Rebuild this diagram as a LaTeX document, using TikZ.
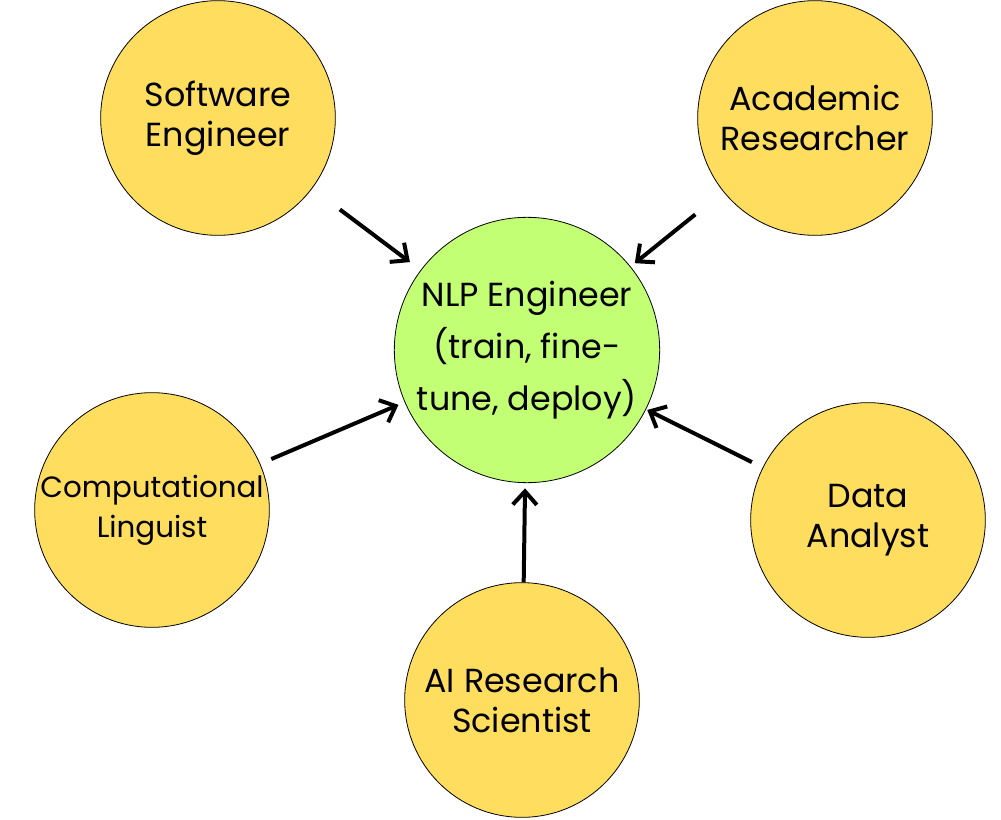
\documentclass[tikz,border=0pt]{standalone}
\usepackage{fontspec}
\setmainfont{Poppins}
\usetikzlibrary{arrows.meta}
\definecolor{yel}{HTML}{FFDD5E}
\definecolor{grn}{HTML}{C2FF74}
\begin{document}
\begin{tikzpicture}[x=0.75pt,y=-0.75pt,
  role/.style={circle,draw=black,line width=0.6pt,fill=yel,minimum size=176pt,inner sep=0pt,align=center,font=\fontsize{25}{30}\selectfont},
  arr/.style={line width=3pt,-{Straight Barb[length=10pt,width=18pt,line width=3pt]}}]
\useasboundingbox (0,0) rectangle (1001,820);
\node[role] (se) at (218,118) {Software\\Engineer};
\node[role] (ar) at (815,118) {Academic\\Researcher};
\node[role] (cl) at (152,510) {\fontsize{22}{28}\selectfont Computational\\\fontsize{22}{28}\selectfont Linguist};
\node[role] (da) at (868,520) {Data\\Analyst};
\node[role] (ai) at (522,700) {AI Research\\Scientist};
\node[circle,draw=black,line width=0.6pt,fill=grn,minimum size=199pt,inner sep=0pt,align=center,font=\fontsize{25}{39}\selectfont] (nlp) at (527,350) {NLP Engineer\\(train, fine-\\tune, deploy)};
\draw[arr,shorten <=26pt,shorten >=10pt] (se) -- (nlp);
\draw[arr,shorten <=27pt,shorten >=4pt] (ar) -- (nlp);
\draw[arr,shorten <=9pt,shorten >=5pt] (cl) -- (nlp);
\draw[arr,shorten <=9pt,shorten >=1pt] (da) -- (nlp);
\draw[arr,shorten <=0pt,shorten >=4pt] (ai) -- (nlp);
\end{tikzpicture}
\end{document}
